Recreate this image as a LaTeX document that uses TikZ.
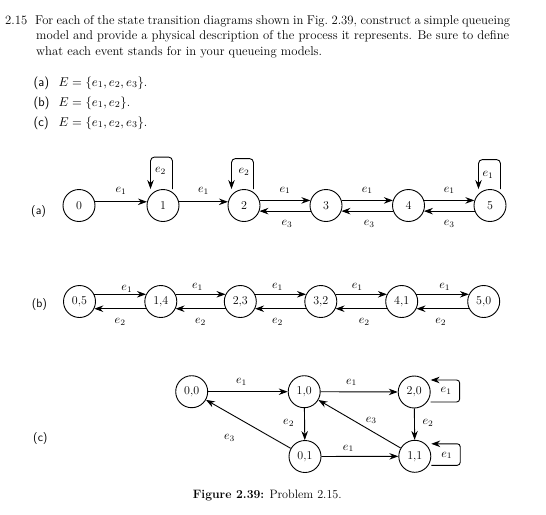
\documentclass[tikz,border=0pt]{standalone}
\DeclareFontShape{OT1}{cmr}{m}{n}{<-10.5> cmr7 <10.5-> cmr10}{}
\DeclareFontShape{OT1}{cmr}{bx}{n}{<-10.5> cmbx7 <10.5-> cmbx10}{}
\DeclareFontShape{OML}{cmm}{m}{it}{<-10.5> cmmi7 <10.5-> cmmi10}{}
\DeclareFontShape{OMS}{cmsy}{m}{n}{<-10.5> cmsy7 <10.5-> cmsy10}{}
\DeclareFontShape{OT1}{cmss}{m}{n}{<-> cmss10}{}
\usetikzlibrary{arrows.meta,calc}
\newcommand{\myfs}{\fontsize{11.99}{14}\selectfont}
\newcommand{\mainfs}{\fontsize{12.7}{16}\selectfont}
\newcommand{\capfs}{\fontsize{12.15}{14}\selectfont}
\newcommand{\loosesp}{\spaceskip=0.333em plus 0.3em minus 0.2em\relax}
\tikzset{
  st/.style={circle, draw, line width=0.9pt, minimum size=32pt, inner sep=0pt, font=\myfs},
  arr/.style={line width=0.9pt, -{Stealth[length=9pt,width=6.5pt,inset=3pt]}},
  lbl/.style={font=\myfs, inner sep=0pt},
  txt/.style={font=\mainfs, inner sep=0pt, anchor=base west},
  dtxt/.style={font=\myfs, inner sep=0pt, anchor=base west},
}
\begin{document}
\begin{tikzpicture}[x=1pt,y=-1pt]
\useasboundingbox[fill=white] (0,0) rectangle (546,514);
% problem text
\node[txt] (num) at (5,24) {2.15};
\node[txt] (t1) at (35,24) {\loosesp\makebox[475pt][s]{For each of the state transition diagrams shown in Fig.~2.39, construct a simple queueing}};
\node[txt] (t2) at (36,39.7) {\loosesp\makebox[473pt][s]{model and provide a physical description of the process it represents. Be sure to define}};
\node[txt] (t3) at (36,55.7) {what each event stands for in your queueing models.};
\node[txt] (pa) at (33.3,86) {\sffamily (a)};
\node[txt] (ea) at (58.3,86) {$E=\{e_1,e_2,e_3\}$.};
\node[txt] (pb) at (33.3,106) {\sffamily (b)};
\node[txt] (eb) at (58.3,106) {$E=\{e_1,e_2\}$.};
\node[txt] (pc) at (33.3,126) {\sffamily (c)};
\node[txt] (ec) at (58.3,126) {$E=\{e_1,e_2,e_3\}$.};

% (a)
\node[dtxt] (la) at (31,214) {\sffamily (a)};
\node[st] (a0) at (79,205.5) {0};
\node[st] (a1) at (163,205.5) {1};
\node[st] (a2) at (244,205.5) {2};
\node[st] (a3) at (326,205.5) {3};
\node[st] (a4) at (408.5,205.5) {4};
\node[st] (a5) at (490,205.5) {5};
\draw[arr] (a0.13) -- (a1.167) node[lbl, midway, yshift=11pt] (ea01) {$e_1$};
\draw[arr] (a1.13) -- (a2.167) node[lbl, midway, yshift=11pt] (ea12) {$e_1$};
\draw[arr] (a2.18) -- (a3.162) node[lbl, midway, yshift=10pt] (ea23) {$e_1$};
\draw[arr] (a3.-160) -- (a2.-20) node[lbl, midway, xshift=2pt, yshift=-13pt] (ea32) {$e_3$};
\draw[arr] (a3.18) -- (a4.162) node[lbl, midway, yshift=10pt] (ea34) {$e_1$};
\draw[arr] (a4.-160) -- (a3.-20) node[lbl, midway, xshift=2pt, yshift=-13pt] (ea43) {$e_3$};
\draw[arr] (a4.18) -- (a5.162) node[lbl, midway, yshift=10pt] (ea45) {$e_1$};
\draw[arr] (a5.-160) -- (a4.-20) node[lbl, midway, yshift=-13pt] (ea54) {$e_3$};
\draw[arr, rounded corners=4pt] ([xshift=9.5pt]a1.north) -- ++(0,-32) -| ([xshift=-12.5pt]a1.north);
\node[lbl] (ea11) at ($(a1.north)+(-2.5,-18)$) {$e_2$};
\draw[arr, rounded corners=4pt] ([xshift=9.5pt]a2.north) -- ++(0,-30.5) -| ([xshift=-12.5pt]a2.north);
\node[lbl] (ea22) at ($(a2.north)+(0,-17)$) {$e_2$};
\draw[arr, rounded corners=4pt] ([xshift=10.5pt]a5.north) -- ++(0,-29.5) -| ([xshift=-11.5pt]a5.north);
\node[lbl] (ea55) at ($(a5.north)+(-2,-14.5)$) {$e_1$};

% (b)
\node[dtxt] (lb) at (31.7,307.7) {\sffamily (b)};
\node[st] (b0) at (79.5,301.5) {0,5};
\node[st] (b1) at (160.8,301.5) {1,4};
\node[st] (b2) at (240.3,301.5) {2,3};
\node[st] (b3) at (320.8,301.5) {3,2};
\node[st] (b4) at (401.7,301.5) {4,1};
\node[st] (b5) at (483.7,301.5) {5,0};
\draw[arr] (b0.26) -- (b1.154) node[lbl, pos=0.63, yshift=5pt] (eb01) {$e_1$};
\draw[arr] (b1.-154) -- (b0.-26) node[lbl, midway, yshift=-13.5pt] (eb10) {$e_2$};
\draw[arr] (b1.26) -- (b2.154) node[lbl, midway, xshift=-3pt, yshift=7.5pt] (eb12) {$e_1$};
\draw[arr] (b2.-154) -- (b1.-26) node[lbl, midway, yshift=-13.5pt] (eb21) {$e_2$};
\draw[arr] (b2.26) -- (b3.154) node[lbl, midway, xshift=-3pt, yshift=7.5pt] (eb23) {$e_1$};
\draw[arr] (b3.-154) -- (b2.-26) node[lbl, midway, xshift=-3pt, yshift=-13.5pt] (eb32) {$e_2$};
\draw[arr] (b3.26) -- (b4.154) node[lbl, midway, xshift=-4pt, yshift=7.5pt] (eb34) {$e_1$};
\draw[arr] (b4.-154) -- (b3.-26) node[lbl, midway, xshift=3pt, yshift=-13.5pt] (eb43) {$e_2$};
\draw[arr] (b4.26) -- (b5.154) node[lbl, midway, xshift=2pt, yshift=7.5pt] (eb45) {$e_1$};
\draw[arr] (b5.-154) -- (b4.-26) node[lbl, midway, xshift=-2pt, yshift=-13.5pt] (eb54) {$e_2$};

% (c)
\node[dtxt] (lc) at (33,441) {\sffamily (c)};
\node[st] (c00) at (191.7,391.7) {0,0};
\node[st] (c10) at (304.2,391.7) {1,0};
\node[st] (c20) at (414.2,392) {2,0};
\node[st] (c01) at (305,456.5) {0,1};
\node[st] (c11) at (414.8,456.3) {1,1};
\draw[arr] (c00) -- (c10) node[lbl, pos=0.42, yshift=9.5pt] (ec1) {$e_1$};
\draw[arr] (c10) -- (c20) node[lbl, pos=0.40, yshift=9.5pt] (ec2) {$e_1$};
\draw[arr] (c01) -- (c11) node[lbl, pos=0.35, yshift=8pt] (ec3) {$e_1$};
\draw[arr] (c10) -- (c01) node[lbl, midway, xshift=-16pt, yshift=1.5pt] (ec4) {$e_2$};
\draw[arr] (c20) -- (c11) node[lbl, midway, xshift=13.5pt, yshift=1.5pt] (ec5) {$e_2$};
\draw[arr] (c01) -- (c00);
\node[lbl] (ec6) at (229.5,438) {$e_3$};
\draw[arr] (c11) -- (c10);
\node[lbl] (ec7) at (371.3,420.5) {$e_3$};
\draw[arr, rounded corners=3pt] ([yshift=-10pt]c20.east) -- ++(29,0) |- ([yshift=12pt]c20.east);
\node[lbl] (ec8) at ($(c20.east)+(15.5,-1)$) {$e_1$};
\draw[arr, rounded corners=3pt] ([yshift=-9pt]c11.east) -- ++(29,0) |- ([yshift=12.5pt]c11.east);
\node[lbl] (ec9) at ($(c11.east)+(15.5,-0.8)$) {$e_1$};

% caption
\node[inner sep=0pt, anchor=base west, font=\capfs] (cap) at (192.7,498.5) {\textbf{Figure 2.39:} Problem 2.15.};
\end{tikzpicture}
\end{document}
